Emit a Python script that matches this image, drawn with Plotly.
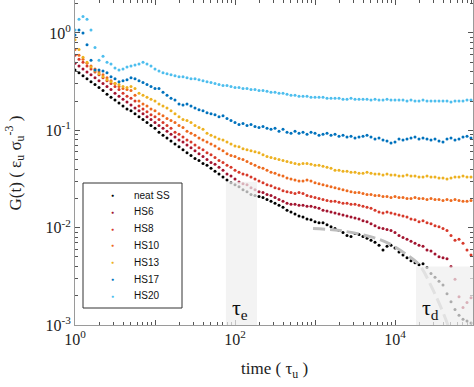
import plotly.graph_objects as go

# sampling times (log10 of time in tau_u)
LOG_TIME = [0.00, 0.05, 0.10, 0.15, 0.20, 0.25, 0.30, 0.35, 0.40, 0.45,
            0.50, 0.55, 0.60, 0.65, 0.70, 0.75, 0.80, 0.85, 0.90, 0.95,
            1.00, 1.05, 1.10, 1.15, 1.20, 1.25, 1.30, 1.35, 1.40, 1.45,
            1.50, 1.55, 1.60, 1.65, 1.70, 1.75, 1.80, 1.85, 1.90, 1.95,
            2.00, 2.05, 2.10, 2.15, 2.20, 2.25, 2.30, 2.35, 2.40, 2.45,
            2.50, 2.55, 2.60, 2.65, 2.70, 2.75, 2.80, 2.85, 2.90, 2.95,
            3.00, 3.05, 3.10, 3.15, 3.20, 3.25, 3.30, 3.35, 3.40, 3.45,
            3.50, 3.55, 3.60, 3.65, 3.70, 3.75, 3.80, 3.85, 3.90, 3.95,
            4.00, 4.05, 4.10, 4.15, 4.20, 4.25, 4.30, 4.35, 4.40, 4.45,
            4.50, 4.55, 4.60, 4.65, 4.70, 4.75, 4.80, 4.85, 4.90, 4.95]

# log10 G(t) for each system
NEAT_SS = [-0.38, -0.41, -0.44, -0.47, -0.50, -0.53, -0.56, -0.59, -0.63, -0.66,
           -0.69, -0.72, -0.75, -0.78, -0.80, -0.83, -0.86, -0.89, -0.92, -0.95,
           -0.98, -1.02, -1.05, -1.08, -1.11, -1.14, -1.17, -1.20, -1.23, -1.26,
           -1.29, -1.31, -1.34, -1.36, -1.39, -1.42, -1.45, -1.48, -1.51, -1.54,
           -1.56, -1.58, -1.61, -1.63, -1.66, -1.67, -1.68, -1.69, -1.71, -1.73,
           -1.75, -1.77, -1.79, -1.82, -1.84, -1.86, -1.88, -1.89, -1.91, -1.92,
           -1.94, -1.95, -1.95, -1.97, -1.99, -2.01, -2.03, -2.05, -2.08, -2.09,
           -2.06, -2.07, -2.09, -2.11, -2.13, -2.15, -2.18, -2.23, -2.19, -2.18,
           -2.21, -2.25, -2.28, -2.31, -2.34, -2.36, -2.38, -2.37, -2.41, -2.47,
           -2.51, -2.55, -2.59, -2.68, -2.76, -2.84, -2.90, -2.94, -2.96, -2.98]

HS6 = [-0.31, -0.34, -0.37, -0.40, -0.43, -0.46, -0.49, -0.52, -0.55, -0.58,
       -0.62, -0.65, -0.68, -0.71, -0.74, -0.77, -0.80, -0.83, -0.86, -0.89,
       -0.92, -0.95, -0.98, -1.01, -1.04, -1.07, -1.10, -1.12, -1.15, -1.18,
       -1.21, -1.24, -1.27, -1.30, -1.33, -1.35, -1.38, -1.41, -1.45, -1.47,
       -1.50, -1.53, -1.55, -1.56, -1.59, -1.61, -1.63, -1.64, -1.66, -1.67,
       -1.69, -1.71, -1.73, -1.75, -1.76, -1.76, -1.77, -1.77, -1.78, -1.78,
       -1.79, -1.80, -1.82, -1.83, -1.84, -1.85, -1.86, -1.87, -1.88, -1.89,
       -1.90, -1.91, -1.93, -1.94, -1.96, -1.98, -2.00, -2.01, -2.02, -2.03,
       -2.05, -2.08, -2.10, -2.12, -2.14, -2.16, -2.18, -2.19, -2.23, -2.24,
       -2.27, -2.30, -2.31, -2.32, -2.40, -2.53, -2.71, -2.82, -2.77, -2.72]

HS8 = [-0.23, -0.27, -0.30, -0.34, -0.37, -0.40, -0.43, -0.46, -0.49, -0.52,
       -0.55, -0.58, -0.62, -0.65, -0.67, -0.70, -0.75, -0.78, -0.81, -0.84,
       -0.86, -0.89, -0.92, -0.95, -0.98, -1.02, -1.04, -1.07, -1.10, -1.12,
       -1.15, -1.18, -1.20, -1.23, -1.25, -1.28, -1.31, -1.33, -1.36, -1.38,
       -1.41, -1.43, -1.45, -1.46, -1.48, -1.50, -1.52, -1.54, -1.56, -1.57,
       -1.59, -1.60, -1.62, -1.63, -1.64, -1.65, -1.64, -1.65, -1.67, -1.68,
       -1.69, -1.70, -1.71, -1.72, -1.73, -1.73, -1.74, -1.75, -1.75, -1.76,
       -1.76, -1.77, -1.78, -1.79, -1.80, -1.82, -1.84, -1.85, -1.84, -1.85,
       -1.86, -1.87, -1.88, -1.89, -1.91, -1.92, -1.94, -1.93, -1.95, -1.96,
       -1.98, -1.99, -2.01, -2.03, -2.08, -2.13, -2.12, -2.16, -2.23, -2.28]

HS10 = [-0.17, -0.23, -0.27, -0.31, -0.34, -0.37, -0.40, -0.43, -0.46, -0.49,
        -0.52, -0.55, -0.57, -0.58, -0.59, -0.64, -0.70, -0.73, -0.75, -0.78,
        -0.80, -0.83, -0.85, -0.88, -0.90, -0.92, -0.95, -0.97, -1.01, -1.03,
        -1.05, -1.08, -1.10, -1.12, -1.14, -1.16, -1.19, -1.21, -1.24, -1.26,
        -1.27, -1.29, -1.30, -1.32, -1.34, -1.36, -1.38, -1.39, -1.41, -1.43,
        -1.44, -1.46, -1.47, -1.49, -1.50, -1.51, -1.52, -1.52, -1.51, -1.52,
        -1.54, -1.55, -1.56, -1.57, -1.58, -1.59, -1.60, -1.61, -1.62, -1.63,
        -1.64, -1.64, -1.65, -1.66, -1.66, -1.67, -1.67, -1.68, -1.68, -1.69,
        -1.68, -1.69, -1.69, -1.70, -1.70, -1.69, -1.70, -1.70, -1.71, -1.70,
        -1.71, -1.71, -1.72, -1.71, -1.72, -1.71, -1.72, -1.73, -1.73, -1.72]

HS13 = [-0.07, -0.17, -0.25, -0.30, -0.35, -0.39, -0.42, -0.45, -0.48, -0.50,
        -0.52, -0.53, -0.55, -0.56, -0.55, -0.57, -0.62, -0.64, -0.66, -0.68,
        -0.70, -0.73, -0.75, -0.77, -0.80, -0.83, -0.86, -0.89, -0.90, -0.92,
        -0.95, -0.97, -0.99, -1.03, -1.05, -1.07, -1.09, -1.10, -1.12, -1.14,
        -1.16, -1.17, -1.19, -1.20, -1.21, -1.22, -1.23, -1.25, -1.27, -1.28,
        -1.29, -1.30, -1.31, -1.32, -1.33, -1.34, -1.35, -1.34, -1.34, -1.35,
        -1.36, -1.36, -1.37, -1.38, -1.39, -1.41, -1.41, -1.42, -1.42, -1.43,
        -1.43, -1.44, -1.44, -1.43, -1.44, -1.45, -1.45, -1.46, -1.45, -1.46,
        -1.46, -1.47, -1.47, -1.46, -1.47, -1.47, -1.48, -1.48, -1.47, -1.48,
        -1.48, -1.49, -1.49, -1.50, -1.49, -1.48, -1.48, -1.47, -1.48, -1.48]

HS17 = [-0.02, 0.03, 0.00, -0.12, -0.28, -0.38, -0.38, -0.39, -0.41, -0.45,
        -0.47, -0.50, -0.49, -0.48, -0.46, -0.47, -0.49, -0.51, -0.53, -0.55,
        -0.57, -0.57, -0.61, -0.64, -0.67, -0.69, -0.73, -0.74, -0.73, -0.75,
        -0.77, -0.79, -0.80, -0.82, -0.83, -0.84, -0.86, -0.85, -0.88, -0.90,
        -0.92, -0.94, -0.93, -0.95, -0.94, -0.96, -0.97, -0.96, -0.98, -0.99,
        -0.98, -1.01, -0.99, -1.02, -1.03, -1.01, -1.03, -1.02, -1.04, -1.02,
        -1.03, -1.05, -1.04, -1.03, -1.05, -1.04, -1.06, -1.05, -1.07, -1.06,
        -1.08, -1.07, -1.06, -1.05, -1.07, -1.09, -1.08, -1.10, -1.11, -1.13,
        -1.12, -1.09, -1.10, -1.09, -1.08, -1.07, -1.09, -1.08, -1.09, -1.10,
        -1.09, -1.11, -1.12, -1.09, -1.08, -1.10, -1.09, -1.07, -1.06, -1.08]

HS20 = [0.03, 0.14, 0.17, 0.14, 0.03, -0.15, -0.28, -0.24, -0.30, -0.32,
        -0.36, -0.38, -0.37, -0.35, -0.34, -0.33, -0.32, -0.30, -0.32, -0.34,
        -0.37, -0.39, -0.41, -0.42, -0.43, -0.44, -0.45, -0.45, -0.46, -0.47,
        -0.47, -0.48, -0.49, -0.50, -0.51, -0.52, -0.53, -0.54, -0.54, -0.55,
        -0.56, -0.56, -0.57, -0.57, -0.58, -0.58, -0.59, -0.59, -0.60, -0.61,
        -0.61, -0.62, -0.62, -0.63, -0.64, -0.64, -0.65, -0.65, -0.65, -0.66,
        -0.66, -0.66, -0.66, -0.67, -0.67, -0.67, -0.67, -0.68, -0.68, -0.67,
        -0.68, -0.68, -0.68, -0.68, -0.69, -0.68, -0.69, -0.69, -0.68, -0.69,
        -0.69, -0.69, -0.69, -0.70, -0.69, -0.70, -0.70, -0.69, -0.70, -0.70,
        -0.70, -0.70, -0.70, -0.70, -0.71, -0.70, -0.70, -0.70, -0.69, -0.69]

# terminal-relaxation fit of neat SS
FIT_LOG_TIME = [2.975, 3.31, 3.725, 3.94, 4.15, 4.31, 4.475, 4.59, 4.66, 4.70]
FIT_LOG_G = [-2.01, -2.03, -2.10, -2.17, -2.28, -2.39, -2.64, -2.85, -3.00, -3.12]

SERIES_NAMES = ["neat SS", "HS6", "HS8", "HS10", "HS13", "HS17", "HS20"]
SERIES_DATA = [NEAT_SS, HS6, HS8, HS10, HS13, HS17, HS20]
SERIES_COLORS = ["#000000", "#A2142F", "#D7392A", "#EE6A1E", "#EDB120", "#0072BD", "#4DBEEE"]

# shaded time windows (tau units) and their upper G limit
TAU_E_BAND = (77, 188, 0.0296)
TAU_D_BAND = (18300, 1.0e5, 0.0040)

X_TICKS = [1, 10, 100, 1000, 10000]
X_TICKTEXT = ["10<sup>0</sup>", "", "10<sup>2</sup>", "", "10<sup>4</sup>"]
Y_TICKS = [0.001, 0.01, 0.1, 1]
Y_TICKTEXT = ["10<sup>-3</sup>", "10<sup>-2</sup>", "10<sup>-1</sup>", "10<sup>0</sup>"]

SERIF = "Liberation Serif, Times New Roman, serif"
SANS = "Liberation Sans, Arial, sans-serif"

# plot-area geometry (px) used for the hand-built legend
PLOT_W, PLOT_H = 398, 325
LEG_BOX = (83, 183, 182, 308)        # left, top, right, bottom
LEG_ROW0, LEG_ROW_STEP = 195, 16.8
LEG_MARK_X, LEG_TEXT_X = 112, 132


def px_x(px):
    return px / PLOT_W


def px_y(py):
    return 1 - py / PLOT_H


time = [10 ** v for v in LOG_TIME]

fig = go.Figure()
for name, data, color in zip(SERIES_NAMES, SERIES_DATA, SERIES_COLORS):
    fig.add_trace(go.Scatter(
        x=time, y=[10 ** v for v in data], mode="markers", name=name,
        marker=dict(size=3, color=color, line=dict(width=0)),
    ))

fig.add_trace(go.Scatter(
    x=[10 ** v for v in FIT_LOG_TIME], y=[10 ** v for v in FIT_LOG_G],
    mode="lines", line=dict(color="#BDBDBD", width=3, dash="12px,5px", shape="spline"),
    showlegend=False, hoverinfo="skip",
))

band_fill = "rgba(238,238,238,0.72)"
for x0, x1, ytop in (TAU_E_BAND, TAU_D_BAND):
    fig.add_shape(type="rect", xref="x", yref="y", x0=x0, x1=x1, y0=1e-4, y1=ytop,
                  fillcolor=band_fill, line=dict(width=0), layer="above")

decades = [1, 10, 100, 1000, 10000]
x_minor = [m * d for d in decades for m in range(2, 10)]
y_minor = [m * d for d in [0.001, 0.01, 0.1, 1] for m in range(2, 10)]

axis_common = dict(
    showline=True, linecolor="#9a9a9a", linewidth=1, mirror="ticks",
    ticks="inside", ticklen=5, tickcolor="#555555", tickwidth=1,
    showgrid=False, zeroline=False, automargin=False,
    tickfont=dict(family=SERIF, size=16, color="#222222"),
)

fig.update_xaxes(
    type="log", range=[0, 4.975], tickmode="array", tickvals=X_TICKS, ticktext=X_TICKTEXT,
    minor=dict(tickmode="array", tickvals=x_minor, ticks="inside", ticklen=3, tickcolor="#555555"),
    **axis_common,
)
fig.update_yaxes(
    type="log", range=[-3, 0.3385], tickmode="array", tickvals=Y_TICKS, ticktext=Y_TICKTEXT,
    minor=dict(tickmode="array", tickvals=y_minor, ticks="inside", ticklen=3, tickcolor="#555555"),
    **axis_common,
)

# axis titles
fig.add_annotation(x=0.5, y=-0.138, xref="paper", yref="paper", showarrow=False,
                   xanchor="center", yanchor="middle",
                   text="time ( τ<sub>u</sub> )", font=dict(family=SERIF, size=17, color="#222222"))
fig.add_annotation(x=-0.151, y=0.5, xref="paper", yref="paper", showarrow=False,
                   xanchor="center", yanchor="middle", textangle=-90,
                   text="G(t) ( ε<sub>u</sub> σ<sub>u</sub><sup>-3</sup> )",
                   font=dict(family=SERIF, size=17, color="#222222"))

fig.add_annotation(x=2.06, y=-2.84, xref="x", yref="y", showarrow=False,
                   text="τ<sub>e</sub>", font=dict(family=SERIF, size=22, color="#111111"))
fig.add_annotation(x=4.44, y=-2.84, xref="x", yref="y", showarrow=False,
                   text="τ<sub>d</sub>", font=dict(family=SERIF, size=22, color="#111111"))

# legend (boxed, MATLAB style)
lx0, ly0, lx1, ly1 = LEG_BOX
fig.add_shape(type="rect", xref="paper", yref="paper",
              x0=px_x(lx0 - 75), x1=px_x(lx1 - 75), y0=px_y(ly1), y1=px_y(ly0),
              fillcolor="white", line=dict(color="#333333", width=1), layer="above")
for i, (name, color) in enumerate(zip(SERIES_NAMES, SERIES_COLORS)):
    row_y = px_y(LEG_ROW0 + i * LEG_ROW_STEP)
    fig.add_annotation(x=px_x(LEG_MARK_X - 75), y=row_y, xref="paper", yref="paper",
                       showarrow=False, xanchor="center", yanchor="middle",
                       text="●", font=dict(family=SANS, size=5, color=color))
    fig.add_annotation(x=px_x(LEG_TEXT_X - 75), y=row_y, xref="paper", yref="paper",
                       showarrow=False, xanchor="left", yanchor="middle",
                       text=name, font=dict(family=SANS, size=10, color="#111111"))

fig.update_layout(
    width=474, height=387,
    margin=dict(l=75, r=1, t=0, b=62),
    paper_bgcolor="white", plot_bgcolor="white",
    showlegend=False,
)

fig.write_html("out.html", config={"displayModeBar": False},
               post_script="document.body.style.margin='0px';")
